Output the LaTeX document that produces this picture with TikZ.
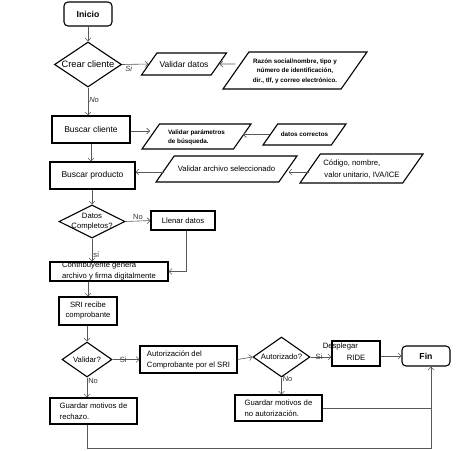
\documentclass[tikz,border=0pt]{standalone}
\usepackage{fontspec}
\setmainfont{Liberation Sans}
\usetikzlibrary{shapes.geometric,arrows.meta}

\begin{document}
\begin{tikzpicture}[x=1pt,y=-1pt,
  process/.style={rectangle,draw,line width=1.1pt,inner sep=1pt,font=\fontsize{7.7}{11}\selectfont},
  term/.style={process,rounded corners=4pt,font=\bfseries\fontsize{8.7}{10}\selectfont},
  data/.style={trapezium,trapezium left angle=55,trapezium right angle=125,trapezium stretches body=true,
               draw,line width=1.1pt,inner xsep=1pt,inner ysep=0pt,font=\fontsize{7.7}{12}\selectfont},
  smalldata/.style={data,font=\bfseries\fontsize{6.3}{9.5}\selectfont},
  tall/.style 2 args={text height=#1pt,text depth=#2pt},
  decision/.style={diamond,draw,line width=1.1pt,inner sep=0pt},
  dtext/.style={font=\fontsize{7.7}{10}\selectfont,align=center,inner sep=0pt},
  line/.style={draw=black!65,line width=0.6pt},
  arrow/.style={line,-{Straight Barb[length=3pt,width=6pt]}},
  tag/.style={font=\fontsize{7.5}{9}\selectfont,inner sep=1pt,text=black!80}]
\useasboundingbox (0,0) rectangle (474,450);

% column on the left
\node[term, minimum width=48pt, minimum height=24pt] (inicio) at (88,14) {Inicio};
\node[decision, minimum width=67pt, minimum height=45pt,
      label={[dtext,font=\fontsize{9.3}{10}\selectfont]center:Crear cliente}] (crear) at (88,64.5) {};
\node[process, minimum width=78pt, minimum height=27pt, font=\fontsize{8.5}{10}\selectfont] (bcliente) at (91,129.5) {Buscar cliente};
\node[process, minimum width=85pt, minimum height=27pt, font=\fontsize{8.5}{10}\selectfont] (bproducto) at (92.5,175.5) {Buscar producto};
\node[decision, minimum width=66pt, minimum height=33pt,
      label={[dtext]center:Datos\\Completos?}] (datcomp) at (92,221.5) {};
\node[process, minimum width=64pt, minimum height=19pt] (llenar) at (183,220.5) {Llenar datos};
\node[process, minimum width=118pt, minimum height=19pt, align=left, inner sep=0pt] (contrib) at (109,271.5)
      {Contribuyente genera\\archivo y firma digitalmente};
\node[process, minimum width=58pt, minimum height=28pt, align=center, font=\fontsize{7.7}{10}\selectfont] (sri) at (88,311)
      {SRI recibe\\comprobante};
\node[decision, minimum width=50pt, minimum height=35pt,
      label={[dtext]center:Validar?}] (validar) at (87,359.5) {};
\node[process, minimum width=87pt, minimum height=26pt, align=left] (guardr) at (93.5,411)
      {Guardar motivos de\\rechazo.};

% data inputs
\node[data, tall={14}{8}, minimum width=85pt, font=\fontsize{8.5}{10}\selectfont] (valdatos) at (184,64) {Validar datos};
\node[smalldata, tall={30.2}{6.8}, minimum width=144pt, align=center] (razon) at (295,70.5)
      {Razón social/nombre, tipo y\\número de identificación,\\dir., tlf, y correo electrónico.};
\node[smalldata, tall={19.5}{5.5}, minimum width=109pt, align=left] (valparam) at (196.5,136.5)
      {Validar parámetros\\de búsqueda.};
\node[smalldata, tall={12.7}{8.3}, minimum width=83pt] (datcorr) at (304.5,134.5) {datos correctos};
\node[data, tall={15.7}{10.3}, minimum width=141pt] (valarch) at (226.5,169) {Validar archivo seleccionado};
\node[data, tall={23.2}{5.8}, minimum width=123pt, align=left] (codigo) at (361.5,168.5)
      {Código, nombre,\\\hspace*{1pt}valor unitario, IVA/ICE};

% bottom row
\node[process, minimum width=97pt, minimum height=27pt, align=left] (autoriz) at (188.5,359.5)
      {Autorización del\\Comprobante por el SRI};
\node[decision, minimum width=57pt, minimum height=40pt,
      label={[dtext]center:Autorizado?}] (autorizado) at (281.5,357) {};
\node[process, minimum width=48pt, minimum height=25pt,
      label={[dtext,align=left,xshift=-12pt,yshift=1.5pt,font=\fontsize{7.7}{12}\selectfont]center:Desplegar\\\hspace*{24pt}RIDE}] (ride) at (356,353.5) {};
\node[term, minimum width=48pt, minimum height=20pt] (fin) at (426,356) {Fin};
\node[process, minimum width=87pt, minimum height=26pt, align=left] (guardn) at (278.5,408)
      {Guardar motivos de\\no autorización.};

% connectors
\draw[arrow] (inicio) -- (crear);
\draw[arrow] (crear.east) -- (valdatos.west) node[tag, pos=0.25, below, font=\itshape\fontsize{7.5}{9}\selectfont] {Si};
\draw[arrow] (razon.west |- valdatos) -- (valdatos.east);
\draw[arrow] (crear.south) -- (bcliente.north -| crear.south) node[tag, pos=0.45, right, font=\itshape\fontsize{7.5}{9}\selectfont] {No};
\draw[arrow] (bcliente.east |- 0,131) -- (valparam.west |- 0,131);
\draw[arrow] (datcorr.west) -- (datcorr.west -| valparam.east);
\draw[arrow] (bcliente.south) -- (bcliente.south |- bproducto.north);
\draw[arrow] (valarch.west |- 0,172) -- (bproducto.east |- 0,172);
\draw[arrow] (codigo.west |- 0,172) -- (valarch.east |- 0,172);
\draw[arrow] (bproducto.south -| datcomp) -- (datcomp.north);
\draw[arrow] (datcomp.east) -- (llenar.west) node[tag, pos=0.5, above] {No};
\draw[arrow] (datcomp.south) -- (datcomp.south |- contrib.north) node[tag, pos=0.7, right] {sí};
\draw[arrow] ([xshift=3pt]llenar.south) |- (contrib.east);
\draw[arrow] (sri.north |- contrib.south) -- (sri.north);
\draw[arrow] (sri.south -| validar) -- (validar.north);
\draw[arrow] (validar.east) -- (autoriz.west) node[tag, pos=0.4, above=-4pt] {Si};
\draw[arrow] (validar.south) -- (validar.south |- guardr.north) node[tag, pos=0.15, right] {No};
\draw[arrow] (autoriz.east) -- (autorizado.west);
\draw[arrow] (autorizado.east) -- (autorizado.east -| ride.west) node[tag, pos=0.4, above=-4pt] {Si};
\draw[arrow] (autorizado.south) -- (autorizado.south |- guardn.north) node[tag, pos=0.1, right] {No};
\draw[arrow] (ride.east |- fin.west) -- (fin.west);
\coordinate (corner) at ([xshift=5pt]fin.south |- 0,448);
\draw[arrow] (validar.south |- guardr.south) |- (corner) -- ([xshift=5pt]fin.south);
\draw[line] (guardn.east) -- (guardn.east -| corner);
\end{tikzpicture}
\end{document}
